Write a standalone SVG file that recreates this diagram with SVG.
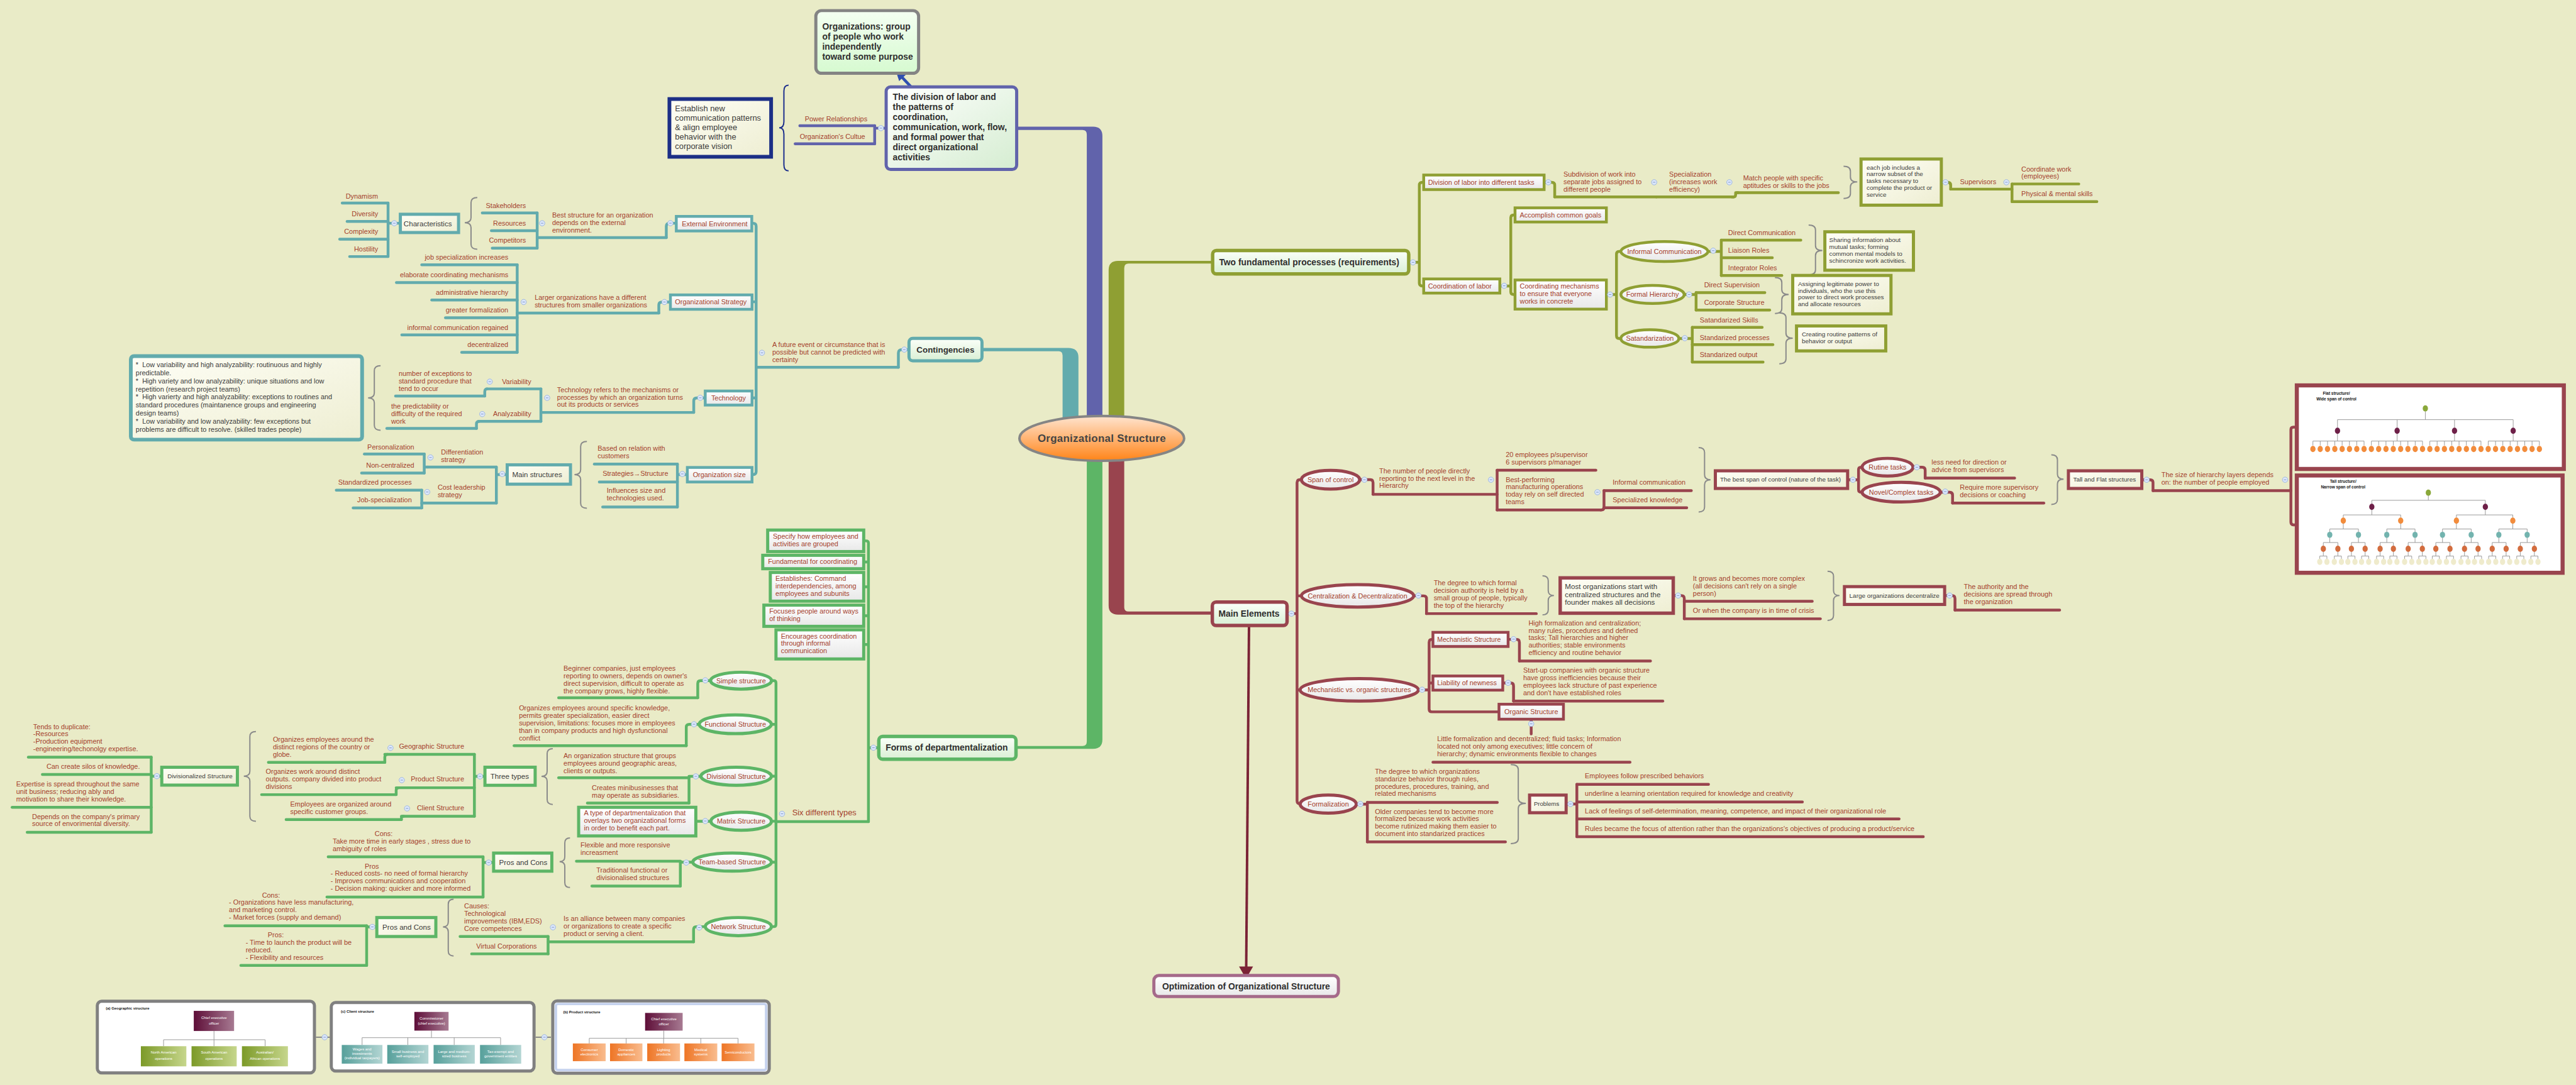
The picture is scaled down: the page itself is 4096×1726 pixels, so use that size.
<svg xmlns="http://www.w3.org/2000/svg" width="4096" height="1726" viewBox="0 0 4096 1726">
<defs>
<style>
text{font-family:"Liberation Sans",Arial,Helvetica,sans-serif}
.r{font-size:11px;fill:#a4412d}
.k{font-size:11.7px;fill:#3b3b3b}
.ks{font-size:10px;fill:#3b3b3b}
.kn{font-size:11px;fill:#3b3b3b}
.kv{font-size:13px;fill:#3b3b3b}
.m{font-size:14px;font-weight:bold;fill:#2f2f2f}
.e{text-anchor:end}
.mid{text-anchor:middle}
.pre{white-space:pre}
.ln{fill:none;stroke-width:4.5;stroke-linecap:round;stroke-linejoin:round}
.tl{stroke:#62abad}.pu{stroke:#6163ab}.ol{stroke:#8f9f33}.gr{stroke:#5db566}.rd{stroke:#99444e}
.br{fill:none;stroke:#8a8a8a;stroke-width:2}
.im text{font-size:6px;fill:#fff;text-anchor:middle}
.cap{font-size:6.5px;font-weight:bold;fill:#111}
.gl{stroke:#9a9a9a;stroke-width:1;fill:none}
</style>
<linearGradient id="gMain" x1="0" y1="0" x2="0" y2="1"><stop offset="0" stop-color="#fbfff9"/><stop offset="1" stop-color="#d9efd4"/></linearGradient>
<linearGradient id="gCream" x1="0" y1="0" x2="1" y2="1"><stop offset="0" stop-color="#fefef6"/><stop offset="1" stop-color="#eeeed2"/></linearGradient>
<linearGradient id="gWhite" x1="0" y1="0" x2="0" y2="1"><stop offset="0" stop-color="#ffffff"/><stop offset="1" stop-color="#e8e8e8"/></linearGradient>
<linearGradient id="gOrange" x1="0" y1="0" x2="0" y2="1"><stop offset="0" stop-color="#ffe4cf"/><stop offset="1" stop-color="#ff8418"/></linearGradient>
<linearGradient id="gDiv" x1="0" y1="0" x2="1" y2="1"><stop offset="0" stop-color="#ffffff"/><stop offset="1" stop-color="#d5edd1"/></linearGradient>
<linearGradient id="gOrg" x1="0" y1="0" x2="0" y2="1"><stop offset="0" stop-color="#f4fff2"/><stop offset="1" stop-color="#d6fad0"/></linearGradient>
<linearGradient id="gPurp" x1="0" y1="0" x2="1" y2="0"><stop offset="0" stop-color="#5e0e38"/><stop offset="1" stop-color="#a77a92"/></linearGradient>
<linearGradient id="gOlv" x1="0" y1="0" x2="1" y2="0"><stop offset="0" stop-color="#7c9a28"/><stop offset="1" stop-color="#c6d68c"/></linearGradient>
<linearGradient id="gTl" x1="0" y1="0" x2="1" y2="0"><stop offset="0" stop-color="#57a09b"/><stop offset="1" stop-color="#b3d5d3"/></linearGradient>
<linearGradient id="gOr" x1="0" y1="0" x2="1" y2="0"><stop offset="0" stop-color="#ee7525"/><stop offset="1" stop-color="#f9bc8e"/></linearGradient>
<g id="cb"><circle r="4.3" fill="#dce7fa" stroke="#9db6e0" stroke-width="1"/><path d="M-2 0H2" stroke="#7f98cc" stroke-width="1"/></g>
<ellipse id="dot" rx="4.2" ry="5"/>
</defs>
<rect width="4096" height="1726" fill="#e9ebc7"/>
<g transform="scale(0.99201)">

<g id="connectors">
<path fill="#62abad" d="M1574 557.9H1712Q1728.6 557.9 1728.6 573V690H1703.2V570Q1703.2 563.3 1697 563.3H1574Z"/>
<path fill="#6163ab" d="M1629.6 203H1752Q1767 203 1767 218V690H1742V216Q1742 208.5 1735 208.5H1629.6Z"/>
<path fill="#8f9f33" d="M1943.7 418.3H1792Q1777 418.3 1777 433V690H1802V430Q1802 422.7 1809 422.7H1943.7Z"/>
<path fill="#5db566" d="M1628.5 1196.3H1735Q1742 1196.3 1742 1189V720H1767V1186Q1767 1200.8 1752 1200.8H1628.5Z"/>
<path fill="#99444e" d="M1777 720V971Q1777 985.5 1792 985.5H1943.2V980.7H1809Q1802 980.7 1802 974V720Z"/>
<path class="ln tl" d="M1457 560.6H1446Q1440 560.6 1440 566V589"/>
<path class="ln tl" d="M1205 358H1207Q1212 358 1212 363V756Q1212 761 1207 761H1205M1205 484H1212M1205 638H1212"/>
<path class="ln tl" d="M1084 358H1073Q1068 358 1068 363V381"/>
<path class="ln tl" d="M861 341.4V397.9"/>
<path class="ln tl" d="M641.7 358H622M622 325.7V411.4"/>
<path class="ln tl" d="M1074.6 484.3H1061Q1056 484.3 1056 489V502"/>
<path class="ln tl" d="M829 424.6V565"/>
<path class="ln tl" d="M1130.4 638H1117Q1112 638 1112 643V661.4"/>
<path class="ln tl" d="M867 623.6V675.7"/>
<path class="ln tl" d="M781 623.6Q777 623.6 777 628V635"/>
<path class="ln tl" d="M768 675.7Q763.7 675.7 763.7 680V687"/>
<path class="ln tl" d="M1101.7 761H1085.8M1085.8 744.3V812.9"/>
<path class="ln tl" d="M813 761H795.6M795.6 749V806.8"/>
<path class="ln tl" d="M685.6 749H680M680 728V758.6"/>
<path class="ln tl" d="M676 786V814.6"/>
<path class="ln pu" d="M1420.4 205.5H1402M1402 201.7V230.7"/>
<path class="ln ol" d="M2258 420.7H2275M2282 292.3H2280Q2275 292.3 2275 297V454Q2275 458.7 2280 458.7H2282"/>
<path class="ln ol" d="M2475 292.3H2487Q2492 292.3 2492 297V315.7"/>
<path class="ln ol" d="M2776 315.7H2779Q2782 315.7 2782 312V309H2786"/>
<path class="ln ol" d="M3111.7 292.3H3122Q3126.7 292.3 3126.7 297V303.3"/>
<path class="ln ol" d="M3225 295V323.3"/>
<path class="ln ol" d="M2404 458.7H2421.6M2428.4 344.7H2426Q2421.6 344.7 2421.6 349V468Q2421.6 472.3 2426 472.3H2428.4"/>
<path class="ln ol" d="M2574.8 472.3H2591M2598 403.3H2595Q2591 403.3 2591 408V538Q2591 542.8 2595 542.8H2598"/>
<path class="ln ol" d="M2737.5 403.3H2759M2759 385V441.7"/>
<path class="ln ol" d="M2699.6 472.2H2718.6M2718.6 469.3V497.3"/>
<path class="ln ol" d="M2691 542.8H2712.5M2712.5 525V580.7"/>
<path class="ln gr" d="M1408.6 1199H1392M1384.4 867.3H1388Q1392 867.3 1392 871V1317.5M1384.4 901.3H1392M1384.4 941H1392M1384.4 987.4H1392M1384.4 1033.4H1392"/>
<path class="ln gr" d="M1236.5 1091.5H1240Q1243.8 1091.5 1243.8 1095V1482Q1243.8 1486 1240 1486H1236.5M1236.5 1161.5H1243.8M1236.5 1244.8H1243.8M1236.5 1316.9H1243.8M1236.5 1382.5H1243.8"/>
<path class="ln gr" d="M1139 1091.5H1123Q1118.4 1091.5 1118.4 1096V1119"/>
<path class="ln gr" d="M1120.8 1161.5H1105Q1100 1161.5 1100 1166V1195.9"/>
<path class="ln gr" d="M1123.8 1245H1104.4V1287.7"/>
<path class="ln gr" d="M1139.6 1317H1115.3"/>
<path class="ln gr" d="M1110.5 1382.5H1090.5M1090.5 1381V1420.9"/>
<path class="ln gr" d="M1130.5 1486H1116Q1111.7 1486 1111.7 1491V1510.4"/>
<path class="ln gr" d="M878.5 1501.8V1529.6"/>
<path class="ln gr" d="M604 1486.4H587.7M587.7 1484.6V1548.2"/>
<path class="ln gr" d="M791.2 1383H774.3M774.3 1374V1438.6"/>
<path class="ln gr" d="M777.3 1245H760.4M760.4 1209.6V1309"/>
<path class="ln gr" d="M621 1209.6Q616.8 1209.6 616.8 1214V1222.5"/>
<path class="ln gr" d="M639 1263.2Q635 1263.2 635 1267V1274.3"/>
<path class="ln gr" d="M647 1309Q643.4 1309 643.4 1312V1314.3"/>
<path class="ln gr" d="M259.3 1244.6H242.4M242.4 1214.3V1334.6"/>
<path class="ln rd" d="M2063 984H2079M2086 769.2H2084Q2079 769.2 2079 774V1284Q2079 1289 2084 1289M2079 955.5H2086M2079 1106.3H2084"/>
<path class="ln rd" d="M2179.3 769.2H2196Q2200.8 769.2 2200.8 774V792.7"/>
<path class="ln rd" d="M2399.7 754V817.7"/>
<path class="ln rd" d="M2565.8 817.7H2567Q2571 817.7 2571 813V786.7"/>
<path class="ln rd" d="M2961.5 769.3H2979M2984.7 749.2H2983Q2979 749.2 2979 753V785Q2979 789.2 2983 789.2H2984.7"/>
<path class="ln rd" d="M3066.2 749.2H3081Q3085.8 749.2 3085.8 754V766.7"/>
<path class="ln rd" d="M3110 789.2H3125Q3129.7 789.2 3129.7 794V806.7"/>
<path class="ln rd" d="M3433 769.3H3446Q3451 769.3 3451 774V786.7"/>
<path class="ln rd" d="M3678 685H3676Q3672 685 3672 689V837Q3672 841.7 3676 841.7H3678"/>
<path class="ln rd" d="M2265.8 955.5H2282Q2286.5 955.5 2286.5 960V984"/>
<path class="ln rd" d="M2682 955H2695Q2699.7 955 2699.7 960V992.3"/>
<path class="ln rd" d="M3117 955H3129Q3133.6 955 3133.6 960V978.3"/>
<path class="ln rd" d="M2273.5 1106.3H2290.7M2296.8 1025.3H2295Q2290.7 1025.3 2290.7 1030V1137Q2290.7 1141.5 2295 1141.5H2402.7M2290.7 1095.3H2296.8"/>
<path class="ln rd" d="M2417.3 1025.3H2431Q2435.4 1025.3 2435.4 1030V1060"/>
<path class="ln rd" d="M2408.7 1095.3H2422Q2426 1095.3 2426 1100V1124.3"/>
<path class="ln rd" d="M2454.3 1153.3V1177"/>
<path class="ln rd" d="M2174.5 1289.5H2191.7M2191.7 1286.7V1350"/>
<path class="ln rd" d="M2510.3 1289.3H2527.5M2527.5 1257.7V1341.7"/>
<path d="M506.4 1663.3H528.8M858.5 1663.3H883" stroke="#8a8a8a" stroke-width="2"/>
<path class="br" d="M765 316.8Q755 316.8 755 324.8V349Q755 357 745 357Q755 357 755 365V391.6Q755 399.6 765 399.6"/>
<path class="br" d="M610 586.4Q600 586.4 600 594.4V630Q600 638 590 638Q600 638 600 646V682Q600 690 610 690"/>
<path class="br" d="M940.7 707.9Q930.7 707.9 930.7 715.9V753Q930.7 761 920.8 761Q930.7 761 930.7 769V807Q930.7 815 940.7 815"/>
<path class="br" style="stroke:#1c2f8c" d="M1264 136.6Q1256.5 136.6 1256.5 146V195Q1256.5 205 1249 205Q1256.5 205 1256.5 215V264Q1256.5 274 1264 274"/>
<path class="br" d="M2955 266.7Q2966 266.7 2966 274.7V283.7Q2966 291.7 2977 291.7Q2966 291.7 2966 299.7V310.3Q2966 318.3 2955 318.3"/>
<path class="br" d="M2899 361Q2910 361 2910 369V393.7Q2910 401.7 2921 401.7Q2910 401.7 2910 409.7V432.7Q2910 440.7 2899 440.7"/>
<path class="br" d="M2845 445Q2856 445 2856 453V464.3Q2856 472.3 2867 472.3Q2856 472.3 2856 480.3V494.7Q2856 502.7 2845 502.7"/>
<path class="br" d="M2852 501.7Q2862.7 501.7 2862.7 509.7V534.3Q2862.7 542.3 2873.5 542.3Q2862.7 542.3 2862.7 550.3V575.3Q2862.7 583.3 2852 583.3"/>
<path class="br" d="M886 1200.5Q877 1200.5 877 1208.5V1237Q877 1245 868 1245Q877 1245 877 1253V1282Q877 1290 886 1290"/>
<path class="br" d="M913.6 1343.7Q905.3 1343.7 905.3 1351.7V1373.8Q905.3 1381.8 897 1381.8Q905.3 1381.8 905.3 1389.8V1415.2Q905.3 1423.2 913.6 1423.2"/>
<path class="br" d="M727 1442Q718.5 1442 718.5 1450V1478.4Q718.5 1486.4 710 1486.4Q718.5 1486.4 718.5 1494.4V1524.9Q718.5 1532.9 727 1532.9"/>
<path class="br" d="M410.2 1173.2Q400.5 1173.2 400.5 1181.2V1236.6Q400.5 1244.6 390.8 1244.6Q400.5 1244.6 400.5 1252.6V1309Q400.5 1317 410.2 1317"/>
<path class="br" d="M2722.7 717.7Q2732.2 717.7 2732.2 725.7V761.3Q2732.2 769.3 2741.8 769.3Q2732.2 769.3 2732.2 777.3V813Q2732.2 821 2722.7 821"/>
<path class="br" d="M3288 729.3Q3297.8 729.3 3297.8 737.3V760.3Q3297.8 768.3 3307.6 768.3Q3297.8 768.3 3297.8 776.3V801Q3297.8 809 3288 809"/>
<path class="br" d="M2472.4 923.3Q2481.6 923.3 2481.6 931.3V947Q2481.6 955 2490.8 955Q2481.6 955 2481.6 963V978Q2481.6 986 2472.4 986"/>
<path class="br" d="M2929.3 916Q2938.9 916 2938.9 924V947Q2938.9 955 2948.5 955Q2938.9 955 2938.9 963V987Q2938.9 995 2929.3 995"/>
<path class="br" d="M2421.6 1226Q2433.6 1226 2433.6 1234V1280.3Q2433.6 1288.3 2445.7 1288.3Q2433.6 1288.3 2433.6 1296.3V1344.7Q2433.6 1352.7 2421.6 1352.7"/>
<path d="M1461 140L1444 122" stroke="#2f4fb0" stroke-width="4.5" stroke-linecap="round"/>
<polygon points="1436,113.6 1452.8,119 1441.2,130" fill="#2f4fb0"/>
<path d="M2002 1003L1997.5 1552" stroke="#7b2336" stroke-width="4"/>
<polygon points="1997.2,1569.5 1986,1550 2008.5,1550" fill="#7b2336"/>
</g>

<g id="central">
<ellipse cx="1766" cy="703" rx="132" ry="36" fill="url(#gOrange)" stroke="#858585" stroke-width="4"/>
<text x="1766" y="709" class="mid" style="font-size:17px;font-weight:bold;fill:#444;letter-spacing:0.3px">Organizational Structure</text>
</g>

<g id="n-org"><rect x="1307.7" y="17" width="164.7" height="100.5" rx="9" fill="url(#gOrg)" stroke="#848484" stroke-width="5"/>
<text class="m" x="1318" y="47.8">Organizations: group<tspan x="1318" dy="16.1">of people who work</tspan><tspan x="1318" dy="16.1">independently</tspan><tspan x="1318" dy="16.1">toward some purpose</tspan></text></g>
<g id="n-division"><rect x="1420.4" y="139.3" width="209.2" height="132.4" rx="7" fill="url(#gDiv)" stroke="#6163ab" stroke-width="5"/>
<text class="m" x="1431" y="160.7">The division of labor and<tspan x="1431" dy="16.05">the patterns of</tspan><tspan x="1431" dy="16.05">coordination,</tspan><tspan x="1431" dy="16.05">communication, work, flow,</tspan><tspan x="1431" dy="16.05">and formal power that</tspan><tspan x="1431" dy="16.05">direct organizational</tspan><tspan x="1431" dy="16.05">activities</tspan></text></g>
<g id="n-power"><text class="r" x="1290" y="194.4">Power Relationships</text><path class="ln pu" d="M1282 201.7H1402"/></g>
<g id="n-culture"><text class="r" x="1282" y="222.7">Organization's Cultue</text><path class="ln pu" d="M1274.5 230.7H1402"/></g>
<g id="n-vision"><rect x="1073" y="158.8" width="163" height="92.6" fill="url(#gCream)" stroke="#1c2f86" stroke-width="6"/>
<text class="kv" x="1082" y="178.3">Establish new<tspan x="1082" dy="15.1">communication patterns</tspan><tspan x="1082" dy="15.1">&amp; align employee</tspan><tspan x="1082" dy="15.1">behavior with the</tspan><tspan x="1082" dy="15.1">corporate vision</tspan></text></g>

<g id="n-contingencies"><rect x="1457" y="542.6" width="117" height="36" rx="6" fill="url(#gMain)" stroke="#62abad" stroke-width="5"/>
<text class="m" x="1515.5" y="565.5" style="font-size:13.5px" text-anchor="middle">Contingencies</text></g>
<g id="n-future"><text class="r" x="1237.8" y="556.8">A future event or circumstance that is<tspan x="1237.8" dy="12">possible but cannot be predicted with</tspan><tspan x="1237.8" dy="12">certainty</tspan></text><path class="ln tl" d="M1213 589H1440"/></g>
<g id="n-extenv"><rect x="1084" y="347" width="121" height="23.4" fill="url(#gWhite)" stroke="#62abad" stroke-width="4.5"/><text class="r" x="1093" y="362.5">External Environment</text></g>
<g id="n-beststruct"><text class="r" x="885" y="349">Best structure for an organization<tspan x="885" dy="12">depends on the external</tspan><tspan x="885" dy="12">environment.</tspan></text><path class="ln tl" d="M861 381H1068"/></g>
<g id="n-stakeholders"><text class="r e" x="843" y="333.6">Stakeholders</text><path class="ln tl" d="M773 341.4H861"/></g>
<g id="n-resources"><text class="r e" x="843" y="361.4">Resources</text><path class="ln tl" d="M787.6 370H861"/></g>
<g id="n-competitors"><text class="r e" x="843" y="389.3">Competitors</text><path class="ln tl" d="M789 397.9H861"/></g>
<g id="n-characteristics"><rect x="641.7" y="343.6" width="93.3" height="29.3" fill="url(#gCream)" stroke="#62abad" stroke-width="5"/><text class="k" x="647" y="362.5">Characteristics</text></g>
<g id="n-dynamism"><text class="r e" x="606" y="318.6">Dynamism</text><path class="ln tl" d="M548.5 325.7H622"/></g>
<g id="n-diversity"><text class="r e" x="606" y="347">Diversity</text><path class="ln tl" d="M556.4 355H622"/></g>
<g id="n-complexity"><text class="r e" x="606" y="374.6">Complexity</text><path class="ln tl" d="M544.5 383.6H622"/></g>
<g id="n-hostility"><text class="r e" x="606" y="403.2">Hostility</text><path class="ln tl" d="M560.4 411.4H622"/></g>
<g id="n-orgstrategy"><rect x="1074.6" y="472.9" width="130.8" height="23.1" fill="url(#gWhite)" stroke="#62abad" stroke-width="4.5"/><text class="r" x="1082" y="488.3">Organizational Strategy</text></g>
<g id="n-larger"><text class="r" x="857" y="480.7">Larger organizations have a different<tspan x="857" dy="12.2">structures from smaller organizations</tspan></text><path class="ln tl" d="M829 502H1056"/></g>
<g id="n-jobspecinc"><text class="r e" x="814.7" y="416.8">job specialization increases</text><path class="ln tl" d="M676 424.6H829"/></g>
<g id="n-elaborate"><text class="r e" x="814.7" y="445">elaborate coordinating mechanisms</text><path class="ln tl" d="M635.4 453.2H829"/></g>
<g id="n-adminhier"><text class="r e" x="814.7" y="472.9">administrative hierarchy</text><path class="ln tl" d="M692 481H829"/></g>
<g id="n-greaterform"><text class="r e" x="814.7" y="500.7">greater formalization</text><path class="ln tl" d="M714 509.6H829"/></g>
<g id="n-informalreg"><text class="r e" x="814.7" y="529">informal communication regained</text><path class="ln tl" d="M644 537H829"/></g>
<g id="n-decentral"><text class="r e" x="814.7" y="556.8">decentralized</text><path class="ln tl" d="M740 565H829"/></g>
<g id="n-technology"><rect x="1130.4" y="627" width="75" height="22.6" fill="url(#gWhite)" stroke="#62abad" stroke-width="4.5"/><text class="r" x="1140" y="642.3">Technology</text></g>
<g id="n-techrefers"><text class="r" x="893" y="629">Technology refers to the mechanisms or<tspan x="893" dy="11.8">processes by which an organization turns</tspan><tspan x="893" dy="11.8">out its products or services</tspan></text><path class="ln tl" d="M869 661.4H1112"/></g>
<g id="n-variability"><text class="r e" x="851.4" y="615.7">Variability</text><path class="ln tl" d="M779.6 623.6H867"/></g>
<g id="n-exceptions"><text class="r" x="639" y="603">number of exceptions to<tspan x="639" dy="11.9">standard procedure that</tspan><tspan x="639" dy="11.9">tend to occur</tspan></text><path class="ln tl" d="M634 635H777"/></g>
<g id="n-analyzability"><text class="r e" x="851.4" y="667.5">Analyzability</text><path class="ln tl" d="M767 675.7H867"/></g>
<g id="n-predict"><text class="r" x="627" y="655">the predictability or<tspan x="627" dy="12">difficulty of the required</tspan><tspan x="627" dy="12">work</tspan></text><path class="ln tl" d="M620 687H763.7"/></g>
<g id="n-technote"><rect x="209.7" y="571" width="370.7" height="134" rx="5" fill="url(#gCream)" stroke="#62abad" stroke-width="6"/>
<text class="kn pre" x="217.6" y="589">*  Low variability and high analyzability: routinuous and highly<tspan x="217.6" dy="12.9">predictable.</tspan><tspan x="217.6" dy="12.9">*  High variety and low analyzability: unique situations and low</tspan><tspan x="217.6" dy="12.9">repetition (research project teams)</tspan><tspan x="217.6" dy="12.9">*  High varierty and high analyzability: exceptions to routines and</tspan><tspan x="217.6" dy="12.9">standard procedures (maintanence groups and engineering</tspan><tspan x="217.6" dy="12.9">design teams)</tspan><tspan x="217.6" dy="12.9">*  Low variability and low analyzability: few exceptions but</tspan><tspan x="217.6" dy="12.9">problems are difficult to resolve. (skilled trades people)</tspan></text></g>
<g id="n-orgsize"><rect x="1101.7" y="749.6" width="103.7" height="23.3" fill="url(#gWhite)" stroke="#62abad" stroke-width="4.5"/><text class="r" x="1110.5" y="765">Organization size</text></g>
<g id="n-based"><text class="r" x="958" y="722.9">Based on relation with<tspan x="958" dy="12.1">customers</tspan></text><path class="ln tl" d="M952.6 744.3H1085.8"/></g>
<g id="n-strat"><text class="r" x="966" y="762.9">Strategies→Structure</text><path class="ln tl" d="M960.6 772.9H1085.8"/></g>
<g id="n-influences"><text class="r" x="972.6" y="790.7">Influences size and<tspan x="972.6" dy="11.8">technologies used.</tspan></text><path class="ln tl" d="M966 812.9H1085.8"/></g>
<g id="n-mainstruct"><rect x="813" y="745.4" width="101.4" height="31" fill="url(#gCream)" stroke="#62abad" stroke-width="5"/><text class="k" x="821" y="765">Main structures</text></g>
<g id="n-diff"><text class="r" x="707" y="729.3">Differentiation<tspan x="707" dy="12.1">strategy</tspan></text><path class="ln tl" d="M685.6 749H795.6"/></g>
<g id="n-personal"><text class="r e" x="664" y="721">Personalization</text><path class="ln tl" d="M584 728H680"/></g>
<g id="n-noncent"><text class="r e" x="664" y="749.6">Non-centralized</text><path class="ln tl" d="M579.6 758.6H680"/></g>
<g id="n-cost"><text class="r" x="701.5" y="785">Cost leadership<tspan x="701.5" dy="12">strategy</tspan></text><path class="ln tl" d="M676 806.8H795.6"/></g>
<g id="n-stdproc"><text class="r e" x="660" y="777.5">Standardized processes</text><path class="ln tl" d="M539 786H676"/></g>
<g id="n-jobspec"><text class="r e" x="660" y="805.7">Job-specialization</text><path class="ln tl" d="M566 814.6H676"/></g>

<g id="n-twofund"><rect x="1943.7" y="401.7" width="314.3" height="37.6" rx="6" fill="url(#gMain)" stroke="#8f9f33" stroke-width="5.5"/><text class="m" x="1954" y="425.3">Two fundamental processes (requirements)</text></g>
<g id="n-divlabor"><rect x="2282" y="280.7" width="193" height="23.3" fill="url(#gWhite)" stroke="#8f9f33" stroke-width="4.5"/><text class="r" x="2289" y="296.2">Division of labor into different tasks</text></g>
<g id="n-subdiv"><text class="r" x="2506" y="283.3">Subdivision of work into<tspan x="2506" dy="12">separate jobs assigned to</tspan><tspan x="2506" dy="12">different people</tspan></text><path class="ln ol" d="M2492 315.7H2655"/></g>
<g id="n-special"><text class="r" x="2675.5" y="283.3">Specialization<tspan x="2675.5" dy="12">(increases work</tspan><tspan x="2675.5" dy="12">efficiency)</tspan></text><path class="ln ol" d="M2655 315.7H2779"/></g>
<g id="n-match"><text class="r" x="2794" y="289.3">Match people with specific<tspan x="2794" dy="12">aptitudes or skills to the jobs</tspan></text><path class="ln ol" d="M2784 309H2946.7"/></g>
<g id="n-jobnote"><rect x="2983" y="255" width="128.7" height="74" fill="url(#gCream)" stroke="#8f9f33" stroke-width="5"/>
<text class="ks" x="2992" y="271.7">each job includes a<tspan x="2992" dy="11">narrow subset of the</tspan><tspan x="2992" dy="11">tasks necessary to</tspan><tspan x="2992" dy="11">complete the product or</tspan><tspan x="2992" dy="11">service</tspan></text></g>
<g id="n-supervisors"><text class="r" x="3141.7" y="295">Supervisors</text><path class="ln ol" d="M3126.7 303.3H3225"/></g>
<g id="n-coordwork"><text class="r" x="3240" y="275">Coordinate work<tspan x="3240" dy="11.7">(employees)</tspan></text><path class="ln ol" d="M3225 295H3332"/></g>
<g id="n-physical"><text class="r" x="3240" y="315">Physical &amp; mental skills</text><path class="ln ol" d="M3225 323.3H3361"/></g>
<g id="n-coordlabor"><rect x="2282" y="447.3" width="122" height="22.7" fill="url(#gWhite)" stroke="#8f9f33" stroke-width="4.5"/><text class="r" x="2289" y="462.5">Coordination of labor</text></g>
<g id="n-accomplish"><rect x="2428.4" y="333.3" width="146.4" height="22.7" fill="url(#gWhite)" stroke="#8f9f33" stroke-width="4.5"/><text class="r" x="2436" y="348.3">Accomplish common goals</text></g>
<g id="n-coordmech"><rect x="2428.4" y="449" width="146.4" height="46.7" fill="url(#gWhite)" stroke="#8f9f33" stroke-width="4.5"/><text class="r" x="2436" y="462.7">Coordinating mechanisms<tspan x="2436" dy="12.3">to ensure that everyone</tspan><tspan x="2436" dy="12.3">works in concrete</tspan></text></g>
<g id="n-informal"><ellipse cx="2667.8" cy="403.3" rx="69.7" ry="16" fill="url(#gWhite)" stroke="#8f9f33" stroke-width="4.5"/><text class="r mid" x="2667.8" y="407.3">Informal Communication</text></g>
<g id="n-formal"><ellipse cx="2648.8" cy="472.2" rx="50.8" ry="14.5" fill="url(#gWhite)" stroke="#8f9f33" stroke-width="4.5"/><text class="r mid" x="2648.8" y="476.2">Formal Hierarchy</text></g>
<g id="n-satand"><ellipse cx="2644.5" cy="542.8" rx="46.5" ry="14" fill="url(#gWhite)" stroke="#8f9f33" stroke-width="4.5"/><text class="r mid" x="2644.5" y="546.8">Satandarization</text></g>
<g id="n-directcomm"><text class="r" x="2770" y="376.7">Direct Communication</text><path class="ln ol" d="M2759 385H2886.5"/></g>
<g id="n-liaison"><text class="r" x="2770" y="405">Liaison Roles</text><path class="ln ol" d="M2759 413.3H2840.8"/></g>
<g id="n-integrator"><text class="r" x="2770" y="433.3">Integrator Roles</text><path class="ln ol" d="M2759 441.7H2856"/></g>
<g id="n-sharenote"><rect x="2925" y="371.7" width="142" height="61.6" fill="url(#gCream)" stroke="#8f9f33" stroke-width="5"/><text class="ks" x="2932" y="388.3">Sharing information about<tspan x="2932" dy="11.1">mutual tasks; forming</tspan><tspan x="2932" dy="11.1">common mental models to</tspan><tspan x="2932" dy="11.1">schincronize work activities.</tspan></text></g>
<g id="n-directsup"><text class="r" x="2731.5" y="461">Direct Supervision</text><path class="ln ol" d="M2718.6 469.3H2828.8"/></g>
<g id="n-corpstruct"><text class="r" x="2731.5" y="489">Corporate Structure</text><path class="ln ol" d="M2718.6 497.3H2836.6"/></g>
<g id="n-assignnote"><rect x="2873.5" y="441.7" width="157.5" height="61.6" fill="url(#gCream)" stroke="#8f9f33" stroke-width="5"/><text class="ks" x="2882" y="458.3">Assigning legitimate power to<tspan x="2882" dy="11">individuals, who the use this</tspan><tspan x="2882" dy="11">power to direct work processes</tspan><tspan x="2882" dy="11">and allocate resources</tspan></text></g>
<g id="n-satskills"><text class="r" x="2724.6" y="516.7">Satandarized Skills</text><path class="ln ol" d="M2712.5 525H2824.5"/></g>
<g id="n-stdprocesses"><text class="r" x="2724.6" y="545">Standarized processes</text><path class="ln ol" d="M2712.5 552.7H2841.7"/></g>
<g id="n-stdoutput"><text class="r" x="2724.6" y="572.7">Standarized output</text><path class="ln ol" d="M2712.5 580.7H2826"/></g>
<g id="n-routinenote"><rect x="2879.6" y="522.7" width="143" height="40" fill="url(#gCream)" stroke="#8f9f33" stroke-width="5"/><text class="ks" x="2888" y="539.3">Creating routine patterns of<tspan x="2888" dy="11">behavior or output</tspan></text></g>

<g id="n-forms"><rect x="1408.6" y="1181" width="219.9" height="36.4" rx="6" fill="url(#gMain)" stroke="#5db566" stroke-width="5.5"/><text class="m" x="1419.5" y="1204">Forms of departmentalization</text></g>
<g id="n-specify"><rect x="1230.5" y="850" width="153.9" height="34.5" fill="url(#gWhite)" stroke="#5db566" stroke-width="5"/><text class="r" x="1239" y="864">Specify how employees and<tspan x="1239" dy="11.8">activities are grouped</tspan></text></g>
<g id="n-fundamental"><rect x="1222.6" y="890.5" width="161.8" height="21.5" fill="url(#gWhite)" stroke="#5db566" stroke-width="5"/><text class="r" x="1231" y="904.5">Fundamental for coordinating</text></g>
<g id="n-establishes"><rect x="1234.7" y="918" width="149.7" height="46" fill="url(#gWhite)" stroke="#5db566" stroke-width="5"/><text class="r" x="1243" y="931.8">Establishes: Command<tspan x="1243" dy="12">interdependencies, among</tspan><tspan x="1243" dy="12">employees and subunits</tspan></text></g>
<g id="n-focuses"><rect x="1224.4" y="970.4" width="160" height="34" fill="url(#gWhite)" stroke="#5db566" stroke-width="5"/><text class="r" x="1233" y="983.7">Focuses people around ways<tspan x="1233" dy="12">of thinking</tspan></text></g>
<g id="n-encourages"><rect x="1243.8" y="1010" width="140.6" height="46.7" fill="url(#gWhite)" stroke="#5db566" stroke-width="5"/><text class="r" x="1251.7" y="1023.7">Encourages coordination<tspan x="1251.7" dy="11.9">through informal</tspan><tspan x="1251.7" dy="11.9">communication</tspan></text></g>
<g id="n-sixtypes"><text class="r" x="1269.8" y="1307.5" style="font-size:13px">Six different types</text><path class="ln gr" d="M1243.8 1317.5H1392"/></g>
<g id="n-simple"><ellipse cx="1187.8" cy="1091.5" rx="48.8" ry="13.5" fill="url(#gWhite)" stroke="#5db566" stroke-width="5"/><text class="r mid" x="1187.8" y="1095.5">Simple structure</text></g>
<g id="n-functional"><ellipse cx="1178.6" cy="1161.5" rx="57.8" ry="15" fill="url(#gWhite)" stroke="#5db566" stroke-width="5"/><text class="r mid" x="1178.6" y="1165.5">Functional Structure</text></g>
<g id="n-divisional"><ellipse cx="1180" cy="1244.8" rx="56.5" ry="14.5" fill="url(#gWhite)" stroke="#5db566" stroke-width="5"/><text class="r mid" x="1180" y="1248.8">Divisional Structure</text></g>
<g id="n-matrix"><ellipse cx="1188" cy="1316.9" rx="48.5" ry="14.5" fill="url(#gWhite)" stroke="#5db566" stroke-width="5"/><text class="r mid" x="1188" y="1320.9">Matrix Structure</text></g>
<g id="n-team"><ellipse cx="1173.5" cy="1382.5" rx="63" ry="14.5" fill="url(#gWhite)" stroke="#5db566" stroke-width="5"/><text class="r mid" x="1173.5" y="1386.5">Team-based Structure</text></g>
<g id="n-network"><ellipse cx="1183.5" cy="1485.9" rx="53" ry="14.5" fill="url(#gWhite)" stroke="#5db566" stroke-width="5"/><text class="r mid" x="1183.5" y="1489.9">Network Structure</text></g>
<g id="n-beginner"><text class="r" x="903.3" y="1075.6">Beginner companies, just employees<tspan x="903.3" dy="11.93">reporting to owners, depends on owner's</tspan><tspan x="903.3" dy="11.93">direct supervision, difficult to operate as</tspan><tspan x="903.3" dy="11.93">the company grows, highly flexible.</tspan></text><path class="ln gr" d="M895.4 1119H1118.4"/></g>
<g id="n-orgspecific"><text class="r" x="831.8" y="1139.4">Organizes employees around specific knowledge,<tspan x="831.8" dy="11.9">permits greater specialization, easier direct</tspan><tspan x="831.8" dy="11.9">supervision, limitations: focuses more in employees</tspan><tspan x="831.8" dy="11.9">than in company products and high dysfunctional</tspan><tspan x="831.8" dy="11.9">conflict</tspan></text><path class="ln gr" d="M824 1195.9H1100"/></g>
<g id="n-groups"><text class="r" x="903.3" y="1215.6">An organization structure that groups<tspan x="903.3" dy="11.95">employees around geographic areas,</tspan><tspan x="903.3" dy="11.95">clients or outputs.</tspan></text><path class="ln gr" d="M895.4 1247.3H1104.4"/></g>
<g id="n-minibiz"><text class="r" x="948.7" y="1267">Creates minibusinesses that<tspan x="948.7" dy="12">may operate as subsidiaries.</tspan></text><path class="ln gr" d="M941.5 1287.7H1104.4"/></g>
<g id="n-matrixnote"><rect x="927.5" y="1294.6" width="187.8" height="45.9" fill="url(#gWhite)" stroke="#5db566" stroke-width="5"/><text class="r" x="936" y="1307.4">A type of departmentalization that<tspan x="936" dy="11.95">overlays two organizational forms</tspan><tspan x="936" dy="11.95">in order to benefit each part.</tspan></text></g>
<g id="n-flexible"><text class="r" x="930.5" y="1358.9">Flexible and more responsive<tspan x="930.5" dy="12.4">increasment</tspan></text><path class="ln gr" d="M923.9 1381H1090.5"/></g>
<g id="n-traditional"><text class="r" x="956" y="1399.3">Traditional functional or<tspan x="956" dy="11.9">divisionalised structures</tspan></text><path class="ln gr" d="M948.7 1420.9H1090.5"/></g>
<g id="n-alliance"><text class="r" x="903.3" y="1477.3">Is an alliance between many companies<tspan x="903.3" dy="11.95">or organizations to create a specific</tspan><tspan x="903.3" dy="11.95">product or serving a client.</tspan></text><path class="ln gr" d="M879 1510.4H1111.7"/></g>
<g id="n-causes"><text class="r" x="744" y="1457">Causes:<tspan x="744" dy="12">Technological</tspan><tspan x="744" dy="12">improvements (IBM,EDS)</tspan><tspan x="744" dy="12">Core competences</tspan></text><path class="ln gr" d="M737.4 1501.8H878.5"/></g>
<g id="n-virtual"><text class="r" x="763.4" y="1521.4">Virtual Corporations</text><path class="ln gr" d="M756 1529.6H878.5"/></g>
<g id="n-pc2"><rect x="604" y="1471.4" width="94.6" height="30.4" fill="url(#gCream)" stroke="#5db566" stroke-width="5"/><text class="k" x="613" y="1490.5">Pros and Cons</text></g>
<g id="n-cons2"><text class="r mid" x="434.4" y="1439.3">Cons:</text><text class="r" x="367" y="1451">- Organizations have less manufacturing,<tspan x="367" dy="12.1">and marketing control.</tspan><tspan x="367" dy="12.1">- Market forces (supply and demand)</tspan></text><path class="ln gr" d="M360.5 1484.6H587.7"/></g>
<g id="n-pros2"><text class="r mid" x="442" y="1502.9">Pros:</text><text class="r" x="393.8" y="1515">- Time to launch the product will be<tspan x="393.8" dy="12.1">reduced.</tspan><tspan x="393.8" dy="12.1">- Flexibility and resources</tspan></text><path class="ln gr" d="M386 1548.2H587.7"/></g>
<g id="n-pc1"><rect x="791.2" y="1368" width="93.3" height="29" fill="url(#gCream)" stroke="#5db566" stroke-width="5"/><text class="k" x="800" y="1387">Pros and Cons</text></g>
<g id="n-cons1"><text class="r mid" x="615" y="1341">Cons:</text><text class="r" x="533.2" y="1352.9">Take more time in early stages , stress due to<tspan x="533.2" dy="12.1">ambiguity of roles</tspan></text><path class="ln gr" d="M526 1374H774.3"/></g>
<g id="n-pros1"><text class="r mid" x="596" y="1392.9">Pros</text><text class="r" x="530" y="1404.6">- Reduced costs- no need of formal hierarchy<tspan x="530" dy="12.15">- Improves communications and cooperation</tspan><tspan x="530" dy="12.15">- Decision making: quicker and more informed</tspan></text><path class="ln gr" d="M524 1438.6H774.3"/></g>
<g id="n-threetypes"><rect x="777.3" y="1230.3" width="80.5" height="29" fill="url(#gCream)" stroke="#5db566" stroke-width="5"/><text class="k" x="786" y="1249">Three types</text></g>
<g id="n-geo"><text class="r e" x="744" y="1201">Geographic Structure</text><path class="ln gr" d="M616.8 1209.6H760.4"/></g>
<g id="n-prod"><text class="r e" x="744" y="1252.9">Product Structure</text><path class="ln gr" d="M635 1263.2H760.4"/></g>
<g id="n-client"><text class="r e" x="744" y="1299">Client Structure</text><path class="ln gr" d="M643.4 1309H760.4"/></g>
<g id="n-geotext"><text class="r" x="437.4" y="1189.3">Organizes employees around the<tspan x="437.4" dy="11.95">distinct regions of the country or</tspan><tspan x="437.4" dy="11.95">globe.</tspan></text><path class="ln gr" d="M430.2 1222.5H616.8"/></g>
<g id="n-prodtext"><text class="r" x="426" y="1241">Organizes work around distinct<tspan x="426" dy="12">outputs. company divided into product</tspan><tspan x="426" dy="12">divisions</tspan></text><path class="ln gr" d="M419.3 1274.3H635"/></g>
<g id="n-clienttext"><text class="r" x="465.3" y="1293.6">Employees are organized around<tspan x="465.3" dy="11.8">specific customer groups.</tspan></text><path class="ln gr" d="M458.6 1314.3H643.4"/></g>
<g id="n-divisionalized"><rect x="259.3" y="1230.4" width="121.2" height="28.6" fill="url(#gCream)" stroke="#5db566" stroke-width="5"/><text class="ks" x="268.4" y="1248.3">Divisionalized Structure</text></g>
<g id="n-tends"><text class="r" x="53.3" y="1168.9">Tends to duplicate:<tspan x="53.3" dy="12">-Resources</tspan><tspan x="53.3" dy="12">-Production equipment</tspan><tspan x="53.3" dy="12">-engineering/techonolgy expertise.</tspan></text><path class="ln gr" d="M45.4 1214.3H242.4"/></g>
<g id="n-silos"><text class="r" x="74.5" y="1232.9">Can create silos of knowledge.</text><path class="ln gr" d="M67.9 1242H242.4"/></g>
<g id="n-expertise"><text class="r" x="26" y="1261.4">Expertise is spread throughout the same<tspan x="26" dy="11.8">unit business; reducing ably and</tspan><tspan x="26" dy="11.8">motivation to share their knowledge.</tspan></text><path class="ln gr" d="M19.4 1294.6H242.4"/></g>
<g id="n-depends"><text class="r" x="51.5" y="1313.2">Depends on the company's primary<tspan x="51.5" dy="11.8">source of envorimental diversity.</tspan></text><path class="ln gr" d="M43.6 1334.6H242.4"/></g>

<g id="n-geoimg" class="im">
<rect x="156" y="1605.5" width="348" height="115" rx="7" fill="#fff" stroke="#808080" stroke-width="5"/>
<text class="cap" x="169.6" y="1619" style="text-anchor:start;fill:#111">(a) Geographic structure</text>
<path class="gl" d="M343 1653.3V1667.3M262.2 1667.3H425M262.2 1667.3V1677.7M343 1667.3V1677.7M425 1667.3V1677.7"/>
<rect x="310.6" y="1621" width="64.6" height="32.3" fill="url(#gPurp)"/>
<text x="343" y="1634">Chief executive</text><text x="343" y="1643">officer</text>
<rect x="225.8" y="1677.7" width="72.9" height="32.3" fill="url(#gOlv)"/><rect x="307" y="1677.7" width="72.4" height="32.3" fill="url(#gOlv)"/><rect x="387.8" y="1677.7" width="73.7" height="32.3" fill="url(#gOlv)"/>
<text x="262.2" y="1690">North American</text><text x="262.2" y="1699.3">operations</text>
<text x="343.2" y="1690">South American</text><text x="343.2" y="1699.3">operations</text>
<text x="424.6" y="1690">Australian/</text><text x="424.6" y="1699.3">African operations</text>
</g>
<g id="n-clientimg" class="im">
<rect x="531" y="1607.5" width="325" height="110" rx="7" fill="#fff" stroke="#808080" stroke-width="5"/>
<text class="cap" x="546.4" y="1624.3" style="text-anchor:start;fill:#111">(c) Client structure</text>
<path class="gl" d="M691.6 1652.7V1664M580.4 1664H802.4M580.4 1664V1675.7M653.7 1664V1675.7M728 1664V1675.7M802.4 1664V1675.7"/>
<rect x="664.2" y="1622.7" width="54.8" height="30" fill="url(#gPurp)"/>
<text x="691.6" y="1635">Commissioner</text><text x="691.6" y="1643.5">(chief executive)</text>
<rect x="547.8" y="1675.7" width="65.2" height="30" fill="url(#gTl)"/><rect x="620.7" y="1675.7" width="66" height="30" fill="url(#gTl)"/><rect x="695" y="1675.7" width="66" height="30" fill="url(#gTl)"/><rect x="769.4" y="1675.7" width="66" height="30" fill="url(#gTl)"/>
<text x="580.4" y="1684">Wages and</text><text x="580.4" y="1691.5">investments</text><text x="580.4" y="1699">(individual taxpayers)</text>
<text x="653.7" y="1688">Small business and</text><text x="653.7" y="1696">self-employed</text>
<text x="728" y="1688">Large and medium-</text><text x="728" y="1696">sized business</text>
<text x="802.4" y="1688">Tax-exempt and</text><text x="802.4" y="1696">government entities</text>
</g>
<g id="n-prodimg" class="im">
<rect x="886" y="1605" width="347" height="116" rx="7" fill="#fff" stroke="#808080" stroke-width="5"/>
<rect x="891" y="1610" width="337" height="106" rx="3" fill="none" stroke="#c5d2ee" stroke-width="4"/>
<text class="cap" x="902.7" y="1625" style="text-anchor:start;fill:#111">(b) Product structure</text>
<path class="gl" d="M1064 1652.7V1665M944.5 1665H1183M944.5 1665V1673.3M1003.7 1665V1673.3M1063.7 1665V1673.3M1123.3 1665V1673.3M1183 1665V1673.3"/>
<rect x="1034" y="1624.3" width="60.2" height="28.4" fill="url(#gPurp)"/>
<text x="1064" y="1636.5">Chief executive</text><text x="1064" y="1644">officer</text>
<rect x="918.2" y="1673.3" width="52.6" height="28.4" fill="url(#gOr)"/><rect x="977.8" y="1673.3" width="51.9" height="28.4" fill="url(#gOr)"/><rect x="1037.4" y="1673.3" width="52.6" height="28.4" fill="url(#gOr)"/><rect x="1097" y="1673.3" width="52.7" height="28.4" fill="url(#gOr)"/><rect x="1156.7" y="1673.3" width="52.6" height="28.4" fill="url(#gOr)"/>
<text x="944.5" y="1685.5">Consumer</text><text x="944.5" y="1693">electronics</text>
<text x="1003.7" y="1685.5">Domestic</text><text x="1003.7" y="1693">appliances</text>
<text x="1063.7" y="1685.5">Lighting</text><text x="1063.7" y="1693">products</text>
<text x="1123.3" y="1685.5">Medical</text><text x="1123.3" y="1693">systems</text>
<text x="1183" y="1689.5">Semiconductors</text>
</g>

<g id="n-main"><rect x="1943.2" y="965.4" width="119.8" height="37.6" rx="6" fill="url(#gMain)" stroke="#99444e" stroke-width="5.5"/><text class="m" x="1953" y="989">Main Elements</text></g>
<g id="n-optim"><rect x="1849.5" y="1564.3" width="295.8" height="33.7" rx="8" fill="url(#gWhite)" stroke="#a56a8a" stroke-width="5"/><text class="m" x="1997.4" y="1586.8" text-anchor="middle">Optimization of Organizational Structure</text></g>
<g id="n-span"><ellipse cx="2132.7" cy="769.2" rx="46.7" ry="15" fill="url(#gWhite)" stroke="#99444e" stroke-width="5"/><text class="r mid" x="2132.7" y="773">Span of control</text></g>
<g id="n-central2"><ellipse cx="2176" cy="955.5" rx="90" ry="18" fill="url(#gWhite)" stroke="#99444e" stroke-width="5"/><text class="r mid" x="2176" y="959.5">Centralization &amp; Decentralization</text></g>
<g id="n-mech"><ellipse cx="2178.7" cy="1106.3" rx="94.7" ry="18" fill="url(#gWhite)" stroke="#99444e" stroke-width="5"/><text class="r mid" x="2178.7" y="1110.3">Mechanistic vs. organic structures</text></g>
<g id="n-formalization"><ellipse cx="2129" cy="1289.5" rx="45" ry="14.5" fill="url(#gWhite)" stroke="#99444e" stroke-width="5"/><text class="r mid" x="2129" y="1293.5">Formalization</text></g>
<g id="n-number"><text class="r" x="2210.7" y="759">The number of people directly<tspan x="2210.7" dy="11.7">reporting to the next level in the</tspan><tspan x="2210.7" dy="11.7">Hierarchy</tspan></text><path class="ln rd" d="M2200.8 792.7H2399.7"/></g>
<g id="n-20emp"><text class="r" x="2413.5" y="733.3">20 employees p/supervisor<tspan x="2413.5" dy="11.7">6 supervisors p/manager</tspan></text><path class="ln rd" d="M2399.7 754H2558"/></g>
<g id="n-bestperf"><text class="r" x="2413.5" y="772.7">Best-performing<tspan x="2413.5" dy="12">manufacturing operations</tspan><tspan x="2413.5" dy="12">today rely on self directed</tspan><tspan x="2413.5" dy="12">teams</tspan></text><path class="ln rd" d="M2399.7 817.7H2565.8"/></g>
<g id="n-infcomm"><text class="r" x="2585" y="777.3">Informal communication</text><path class="ln rd" d="M2571 786.7H2711"/></g>
<g id="n-speck"><text class="r" x="2585" y="805.7">Specialized knowledge</text><path class="ln rd" d="M2571 814.3H2703.6"/></g>
<g id="n-bestspan"><rect x="2749.5" y="755" width="212" height="28.3" fill="url(#gCream)" stroke="#99444e" stroke-width="5"/><text class="ks" x="2757" y="772.5">The best span of control (nature of the task)</text></g>
<g id="n-rutine"><ellipse cx="3025.5" cy="749.2" rx="40.8" ry="14.2" fill="url(#gWhite)" stroke="#99444e" stroke-width="5"/><text class="r mid" x="3025.5" y="753">Rutine tasks</text></g>
<g id="n-novel"><ellipse cx="3047.4" cy="789.2" rx="62.7" ry="15.8" fill="url(#gWhite)" stroke="#99444e" stroke-width="5"/><text class="r mid" x="3047.4" y="793">Novel/Complex tasks</text></g>
<g id="n-lessneed"><text class="r" x="3096" y="745">less need for direction or<tspan x="3096" dy="12.3">advice from supervisors</tspan></text><path class="ln rd" d="M3085.8 766.7H3229.2"/></g>
<g id="n-require"><text class="r" x="3141.4" y="785">Require more supervisory<tspan x="3141.4" dy="12.3">decisions or coaching</tspan></text><path class="ln rd" d="M3129.7 806.7H3276"/></g>
<g id="n-tallflat"><rect x="3315.4" y="755" width="117.6" height="28.3" fill="url(#gCream)" stroke="#99444e" stroke-width="5"/><text class="ks" x="3323" y="772.5">Tall and Flat structures</text></g>
<g id="n-sizehier"><text class="r" x="3464.4" y="765">The size of hierarchy layers depends<tspan x="3464.4" dy="12.3">on: the number of people employed</tspan></text><path class="ln rd" d="M3451 786.7H3672"/></g>
<g id="n-flatimg">
<rect x="3681.5" y="618" width="428" height="134" fill="#fff" stroke="#99444e" stroke-width="6.5"/>
<text class="cap mid" x="3745" y="633">Flat structure/</text><text class="cap mid" x="3745" y="642">Wide span of control</text>
<path class="gl" d="M3887.5 660V673M3746.7 673H4028.3M3746.7 673V686M3842.3 673V686M3934.3 673V686M4028.3 673V686M3746.7 695.5V707.3M3842.3 695.5V707.3M3934.3 695.5V707.3M4028.3 695.5V707.3M3707.3 707.3H3789.3M3801 707.3H3883M3894.7 707.3H3976.7M3988.3 707.3H4070.3"/>
<path class="gl" d="M3707.3 707.3v7m11.71-7v7m11.71-7v7m11.71-7v7m11.71-7v7m11.71-7v7m11.71-7v7m11.71-7v7M3801 707.3v7m11.71-7v7m11.71-7v7m11.71-7v7m11.71-7v7m11.71-7v7m11.71-7v7m11.71-7v7M3894.7 707.3v7m11.71-7v7m11.71-7v7m11.71-7v7m11.71-7v7m11.71-7v7m11.71-7v7m11.71-7v7M3988.3 707.3v7m11.71-7v7m11.71-7v7m11.71-7v7m11.71-7v7m11.71-7v7m11.71-7v7m11.71-7v7"/>
<use href="#dot" x="3887.5" y="655" fill="#8aa83a"/>
<g fill="#6e2048"><use href="#dot" x="3746.7" y="690.7"/><use href="#dot" x="3842.3" y="690.7"/><use href="#dot" x="3934.3" y="690.7"/><use href="#dot" x="4028.3" y="690.7"/></g>
<g fill="#f28c3c">
<use href="#dot" x="3707.3" y="720"/><use href="#dot" x="3719" y="720"/><use href="#dot" x="3730.7" y="720"/><use href="#dot" x="3742.4" y="720"/><use href="#dot" x="3754.2" y="720"/><use href="#dot" x="3765.9" y="720"/><use href="#dot" x="3777.6" y="720"/><use href="#dot" x="3789.3" y="720"/>
<use href="#dot" x="3801" y="720"/><use href="#dot" x="3812.7" y="720"/><use href="#dot" x="3824.4" y="720"/><use href="#dot" x="3836.1" y="720"/><use href="#dot" x="3847.9" y="720"/><use href="#dot" x="3859.6" y="720"/><use href="#dot" x="3871.3" y="720"/><use href="#dot" x="3883" y="720"/>
<use href="#dot" x="3894.7" y="720"/><use href="#dot" x="3906.4" y="720"/><use href="#dot" x="3918.1" y="720"/><use href="#dot" x="3929.8" y="720"/><use href="#dot" x="3941.6" y="720"/><use href="#dot" x="3953.3" y="720"/><use href="#dot" x="3965" y="720"/><use href="#dot" x="3976.7" y="720"/>
<use href="#dot" x="3988.3" y="720"/><use href="#dot" x="4000" y="720"/><use href="#dot" x="4011.7" y="720"/><use href="#dot" x="4023.4" y="720"/><use href="#dot" x="4035.2" y="720"/><use href="#dot" x="4046.9" y="720"/><use href="#dot" x="4058.6" y="720"/><use href="#dot" x="4070.3" y="720"/>
</g>
</g>
<g id="n-tallimg">
<rect x="3681.5" y="762.5" width="426" height="156" fill="#fff" stroke="#99444e" stroke-width="6.5"/>
<text class="cap mid" x="3755.7" y="774.3">Tall structure/</text><text class="cap mid" x="3755.7" y="783">Narrow span of control</text>
<path class="gl" d="M3892.3 794V802.3M3801.7 802.3H3983.7M3801.7 802.3V808M3983.7 802.3V808M3801.7 817V825.7M3756 825.7H3848M3756 825.7V830M3848 825.7V830M3983.7 817V825.7M3937.3 825.7H4027.7M3937.3 825.7V830M4027.7 825.7V830"/>
<path class="gl" d="M3756 839V848.3M3734.3 848.3H3780.3M3734.3 848.3V853M3780.3 848.3V853M3848 839V848.3M3825.7 848.3H3871M3825.7 848.3V853M3871 848.3V853M3937.3 839V848.3M3915 848.3H3961M3915 848.3V853M3961 848.3V853M4027.7 839V848.3M4005.3 848.3H4050.7M4005.3 848.3V853M4050.7 848.3V853"/>
<path class="gl" d="M3734.3 862V870M3724 870H3747.3M3724 870V875.5M3747.3 870V875.5M3780.3 862V870M3769 870H3791M3769 870V875.5M3791 870V875.5M3825.7 862V870M3815 870H3836.3M3815 870V875.5M3836.3 870V875.5M3871 862V870M3860 870H3882.7M3860 870V875.5M3882.7 870V875.5M3915 862V870M3904.3 870H3927M3904.3 870V875.5M3927 870V875.5M3961 862V870M3950.3 870H3972M3950.3 870V875.5M3972 870V875.5M4005.3 862V870M3994.7 870H4017M3994.7 870V875.5M4017 870V875.5M4050.7 862V870M4039.7 870H4062.3M4039.7 870V875.5M4062.3 870V875.5"/>
<path class="gl" d="M3724 884.5v7.2h-5.7v5.3m11.4-5.3v5.3m-5.7-5.3h5.7M3747.3 884.5v7.2h-5.7v5.3m11.4-5.3v5.3m-5.7-5.3h5.7M3769 884.5v7.2h-5.7v5.3m11.4-5.3v5.3m-5.7-5.3h5.7M3791 884.5v7.2h-5.7v5.3m11.4-5.3v5.3m-5.7-5.3h5.7M3815 884.5v7.2h-5.7v5.3m11.4-5.3v5.3m-5.7-5.3h5.7M3836.3 884.5v7.2h-5.7v5.3m11.4-5.3v5.3m-5.7-5.3h5.7M3860 884.5v7.2h-5.7v5.3m11.4-5.3v5.3m-5.7-5.3h5.7M3882.7 884.5v7.2h-5.7v5.3m11.4-5.3v5.3m-5.7-5.3h5.7M3904.3 884.5v7.2h-5.7v5.3m11.4-5.3v5.3m-5.7-5.3h5.7M3927 884.5v7.2h-5.7v5.3m11.4-5.3v5.3m-5.7-5.3h5.7M3950.3 884.5v7.2h-5.7v5.3m11.4-5.3v5.3m-5.7-5.3h5.7M3972 884.5v7.2h-5.7v5.3m11.4-5.3v5.3m-5.7-5.3h5.7M3994.7 884.5v7.2h-5.7v5.3m11.4-5.3v5.3m-5.7-5.3h5.7M4017 884.5v7.2h-5.7v5.3m11.4-5.3v5.3m-5.7-5.3h5.7M4039.7 884.5v7.2h-5.7v5.3m11.4-5.3v5.3m-5.7-5.3h5.7M4062.3 884.5v7.2h-5.7v5.3m11.4-5.3v5.3m-5.7-5.3h5.7"/>
<use href="#dot" x="3892.3" y="790" fill="#8aa83a"/>
<g fill="#6e2048"><use href="#dot" x="3801.7" y="812.7"/><use href="#dot" x="3983.7" y="812.7"/></g>
<g fill="#f28c3c"><use href="#dot" x="3756" y="835"/><use href="#dot" x="3848" y="835"/><use href="#dot" x="3937.3" y="835"/><use href="#dot" x="4027.7" y="835"/></g>
<g fill="#72b3ae"><use href="#dot" x="3734.3" y="857.7"/><use href="#dot" x="3780.3" y="857.7"/><use href="#dot" x="3825.7" y="857.7"/><use href="#dot" x="3871" y="857.7"/><use href="#dot" x="3915" y="857.7"/><use href="#dot" x="3961" y="857.7"/><use href="#dot" x="4005.3" y="857.7"/><use href="#dot" x="4050.7" y="857.7"/></g>
<g fill="#d36c3e"><use href="#dot" x="3724" y="880"/><use href="#dot" x="3747.3" y="880"/><use href="#dot" x="3769" y="880"/><use href="#dot" x="3791" y="880"/><use href="#dot" x="3815" y="880"/><use href="#dot" x="3836.3" y="880"/><use href="#dot" x="3860" y="880"/><use href="#dot" x="3882.7" y="880"/><use href="#dot" x="3904.3" y="880"/><use href="#dot" x="3927" y="880"/><use href="#dot" x="3950.3" y="880"/><use href="#dot" x="3972" y="880"/><use href="#dot" x="3994.7" y="880"/><use href="#dot" x="4017" y="880"/><use href="#dot" x="4039.7" y="880"/><use href="#dot" x="4062.3" y="880"/></g>
<g fill="#efebcc"><use href="#dot" x="3718.3" y="901"/><use href="#dot" x="3729.7" y="901"/><use href="#dot" x="3741.6" y="901"/><use href="#dot" x="3753" y="901"/><use href="#dot" x="3763.3" y="901"/><use href="#dot" x="3774.7" y="901"/><use href="#dot" x="3785.3" y="901"/><use href="#dot" x="3796.7" y="901"/><use href="#dot" x="3809.3" y="901"/><use href="#dot" x="3820.7" y="901"/><use href="#dot" x="3830.6" y="901"/><use href="#dot" x="3842" y="901"/><use href="#dot" x="3854.3" y="901"/><use href="#dot" x="3865.7" y="901"/><use href="#dot" x="3877" y="901"/><use href="#dot" x="3888.4" y="901"/><use href="#dot" x="3898.6" y="901"/><use href="#dot" x="3910" y="901"/><use href="#dot" x="3921.3" y="901"/><use href="#dot" x="3932.7" y="901"/><use href="#dot" x="3944.6" y="901"/><use href="#dot" x="3956" y="901"/><use href="#dot" x="3966.3" y="901"/><use href="#dot" x="3977.7" y="901"/><use href="#dot" x="3989" y="901"/><use href="#dot" x="4000.4" y="901"/><use href="#dot" x="4011.3" y="901"/><use href="#dot" x="4022.7" y="901"/><use href="#dot" x="4034" y="901"/><use href="#dot" x="4045.4" y="901"/><use href="#dot" x="4056.6" y="901"/><use href="#dot" x="4068" y="901"/></g>
</g>
<g id="n-degree"><text class="r" x="2298" y="939">The degree to which formal<tspan x="2298" dy="12">decision authority is held by a</tspan><tspan x="2298" dy="12">small group of people, typically</tspan><tspan x="2298" dy="12">the top of the hierarchy</tspan></text><path class="ln rd" d="M2286.5 984H2462.5"/></g>
<g id="n-mostorgs"><rect x="2500.8" y="926.7" width="181.2" height="56.6" fill="url(#gCream)" stroke="#99444e" stroke-width="5.5"/><text class="k" x="2508.4" y="944.3">Most organizations start with<tspan x="2508.4" dy="12.85">centralized structures and the</tspan><tspan x="2508.4" dy="12.85">founder makes all decisions</tspan></text></g>
<g id="n-grows"><text class="r" x="2713.5" y="931.7">It grows and becomes more complex<tspan x="2713.5" dy="11.8">(all decisions can't rely on a single</tspan><tspan x="2713.5" dy="11.8">person)</tspan></text><path class="ln rd" d="M2699.7 964.3H2904.8"/></g>
<g id="n-crisis"><text class="r" x="2713.5" y="983.3">Or when the company is in time of crisis</text><path class="ln rd" d="M2699.7 992.3H2917.8"/></g>
<g id="n-largeorgs"><rect x="2956.4" y="940.7" width="160.6" height="28.6" fill="url(#gCream)" stroke="#99444e" stroke-width="5"/><text class="ks" x="2964.3" y="958.3">Large organizations decentralize</text></g>
<g id="n-authority"><text class="r" x="3147.7" y="945">The authority and the<tspan x="3147.7" dy="12.1">decisions are spread through</tspan><tspan x="3147.7" dy="12.1">the organization</tspan></text><path class="ln rd" d="M3133.6 978.3H3301.3"/></g>
<g id="n-mechstruct"><rect x="2296.8" y="1014" width="120.5" height="22.7" fill="url(#gWhite)" stroke="#99444e" stroke-width="4.5"/><text class="r" x="2303.7" y="1029" style="font-size:10.6px">Mechanistic Structure</text></g>
<g id="n-liability"><rect x="2296.8" y="1084" width="111.9" height="22.7" fill="url(#gWhite)" stroke="#99444e" stroke-width="4.5"/><text class="r" x="2303.7" y="1099">Liability of newness</text></g>
<g id="n-organic"><rect x="2402.7" y="1129.3" width="103.3" height="24" fill="url(#gWhite)" stroke="#99444e" stroke-width="4.5"/><text class="r" x="2411.3" y="1145">Organic Structure</text></g>
<g id="n-highform"><text class="r" x="2450" y="1003.3">High formalization and centralization;<tspan x="2450" dy="11.7">many rules, procedures and defined</tspan><tspan x="2450" dy="11.7">tasks; Tall hierarchies and higher</tspan><tspan x="2450" dy="11.7">authorities; stable environments</tspan><tspan x="2450" dy="11.7">efficiency and routine behavior</tspan></text><path class="ln rd" d="M2435.4 1060H2645.5"/></g>
<g id="n-startup"><text class="r" x="2441.4" y="1079">Start-up companies with organic structure<tspan x="2441.4" dy="12">have gross inefficiencies because their</tspan><tspan x="2441.4" dy="12">employees lack structure of past experience</tspan><tspan x="2441.4" dy="12">and don't have established roles</tspan></text><path class="ln rd" d="M2426 1124.3H2665.3"/></g>
<g id="n-little"><text class="r" x="2303.7" y="1188.3">Little formalization and decentralized; fluid tasks; Information<tspan x="2303.7" dy="12">located not only among executives; little concern of</tspan><tspan x="2303.7" dy="12">hierarchy; dynamic environments flexible to changes</tspan></text><path class="ln rd" d="M2296.8 1222.3H2612.7"/></g>
<g id="n-degreeform"><text class="r" x="2203.8" y="1240.7">The degree to which organizations<tspan x="2203.8" dy="12">standarize behavior through rules,</tspan><tspan x="2203.8" dy="12">procedures, procedures, training, and</tspan><tspan x="2203.8" dy="12">related mechanisms</tspan></text><path class="ln rd" d="M2191.7 1286.7H2400"/></g>
<g id="n-older"><text class="r" x="2203.8" y="1305">Older companies tend to become more<tspan x="2203.8" dy="12">formalized because work activities</tspan><tspan x="2203.8" dy="12">become rutinized making them easier to</tspan><tspan x="2203.8" dy="12">document into standarized practices</tspan></text><path class="ln rd" d="M2191.7 1350H2413"/></g>
<g id="n-problems"><rect x="2451.7" y="1275" width="58.6" height="28.3" fill="url(#gCream)" stroke="#99444e" stroke-width="5"/><text class="ks" x="2458.6" y="1292.3" style="font-size:9.6px">Problems</text></g>
<g id="n-p1"><text class="r" x="2540.4" y="1248.3">Employees follow prescribed behaviors</text><path class="ln rd" d="M2527.5 1257.7H2738.5"/></g>
<g id="n-p2"><text class="r" x="2540.4" y="1276.7">underline a learning orientation required for knowledge and creativity</text><path class="ln rd" d="M2527.5 1286H2889"/></g>
<g id="n-p3"><text class="r" x="2540.4" y="1304.3">Lack of feelings of self-determination, meaning, competence, and impact of their organizational role</text><path class="ln rd" d="M2527.5 1313.3H3044"/></g>
<g id="n-p4"><text class="r" x="2540.4" y="1332.3">Rules became the focus of attention rather than the organizations's objectives of producing a product/service</text><path class="ln rd" d="M2527.5 1341.7H3082.8"/></g>

<g id="collapse-buttons">
<use href="#cb" x="1412" y="205.5"/>
<use href="#cb" x="1449.5" y="560.6"/><use href="#cb" x="1221.3" y="565.7"/><use href="#cb" x="1074.6" y="357.9"/><use href="#cb" x="869" y="358"/><use href="#cb" x="632" y="358"/><use href="#cb" x="1065" y="484.3"/><use href="#cb" x="839.4" y="484.3"/><use href="#cb" x="1122.4" y="637.9"/><use href="#cb" x="877" y="638"/><use href="#cb" x="785" y="612"/><use href="#cb" x="773" y="664"/><use href="#cb" x="1093.7" y="760"/><use href="#cb" x="805" y="760"/><use href="#cb" x="690" y="733.6"/><use href="#cb" x="684.8" y="789"/>
<use href="#cb" x="2264.8" y="420.7"/><use href="#cb" x="2481.8" y="292.3"/><use href="#cb" x="2651.4" y="292.3"/><use href="#cb" x="2772" y="292.3"/><use href="#cb" x="3118.4" y="292.3"/><use href="#cb" x="3216" y="292.3"/><use href="#cb" x="2411" y="458.3"/><use href="#cb" x="2580.8" y="472.3"/><use href="#cb" x="2746" y="402"/><use href="#cb" x="2707.4" y="472.3"/><use href="#cb" x="2700.5" y="542.3"/>
<use href="#cb" x="1400" y="1199"/><use href="#cb" x="1253.5" y="1305"/><use href="#cb" x="1130.5" y="1091"/><use href="#cb" x="1112.3" y="1161.4"/><use href="#cb" x="1115.3" y="1245"/><use href="#cb" x="1130.5" y="1316.6"/><use href="#cb" x="1100" y="1383.2"/><use href="#cb" x="1120.8" y="1487.4"/><use href="#cb" x="886.3" y="1487"/><use href="#cb" x="769.4" y="1245"/><use href="#cb" x="783.3" y="1383.2"/><use href="#cb" x="596.8" y="1486.4"/><use href="#cb" x="625.9" y="1199.3"/><use href="#cb" x="644" y="1251"/><use href="#cb" x="652.5" y="1296.4"/><use href="#cb" x="251.4" y="1244.6"/>
<use href="#cb" x="2070" y="984"/><use href="#cb" x="2187" y="769.3"/><use href="#cb" x="2389.8" y="769.3"/><use href="#cb" x="2560.5" y="789.3"/><use href="#cb" x="2970" y="769.3"/><use href="#cb" x="3072.4" y="749.3"/><use href="#cb" x="3118" y="788.3"/><use href="#cb" x="3440.8" y="769.3"/><use href="#cb" x="3662.7" y="769.3"/><use href="#cb" x="2273.5" y="955"/><use href="#cb" x="2689.8" y="955"/><use href="#cb" x="3125" y="955"/><use href="#cb" x="2279.5" y="1106"/><use href="#cb" x="2426" y="1025"/><use href="#cb" x="2417.3" y="1095"/><use href="#cb" x="2454.3" y="1160.7"/><use href="#cb" x="2180.5" y="1289.3"/><use href="#cb" x="2517.2" y="1289.3"/>
<use href="#cb" x="520.4" y="1663.3"/><use href="#cb" x="872.6" y="1663.3"/>
</g>
</g>
</svg>
